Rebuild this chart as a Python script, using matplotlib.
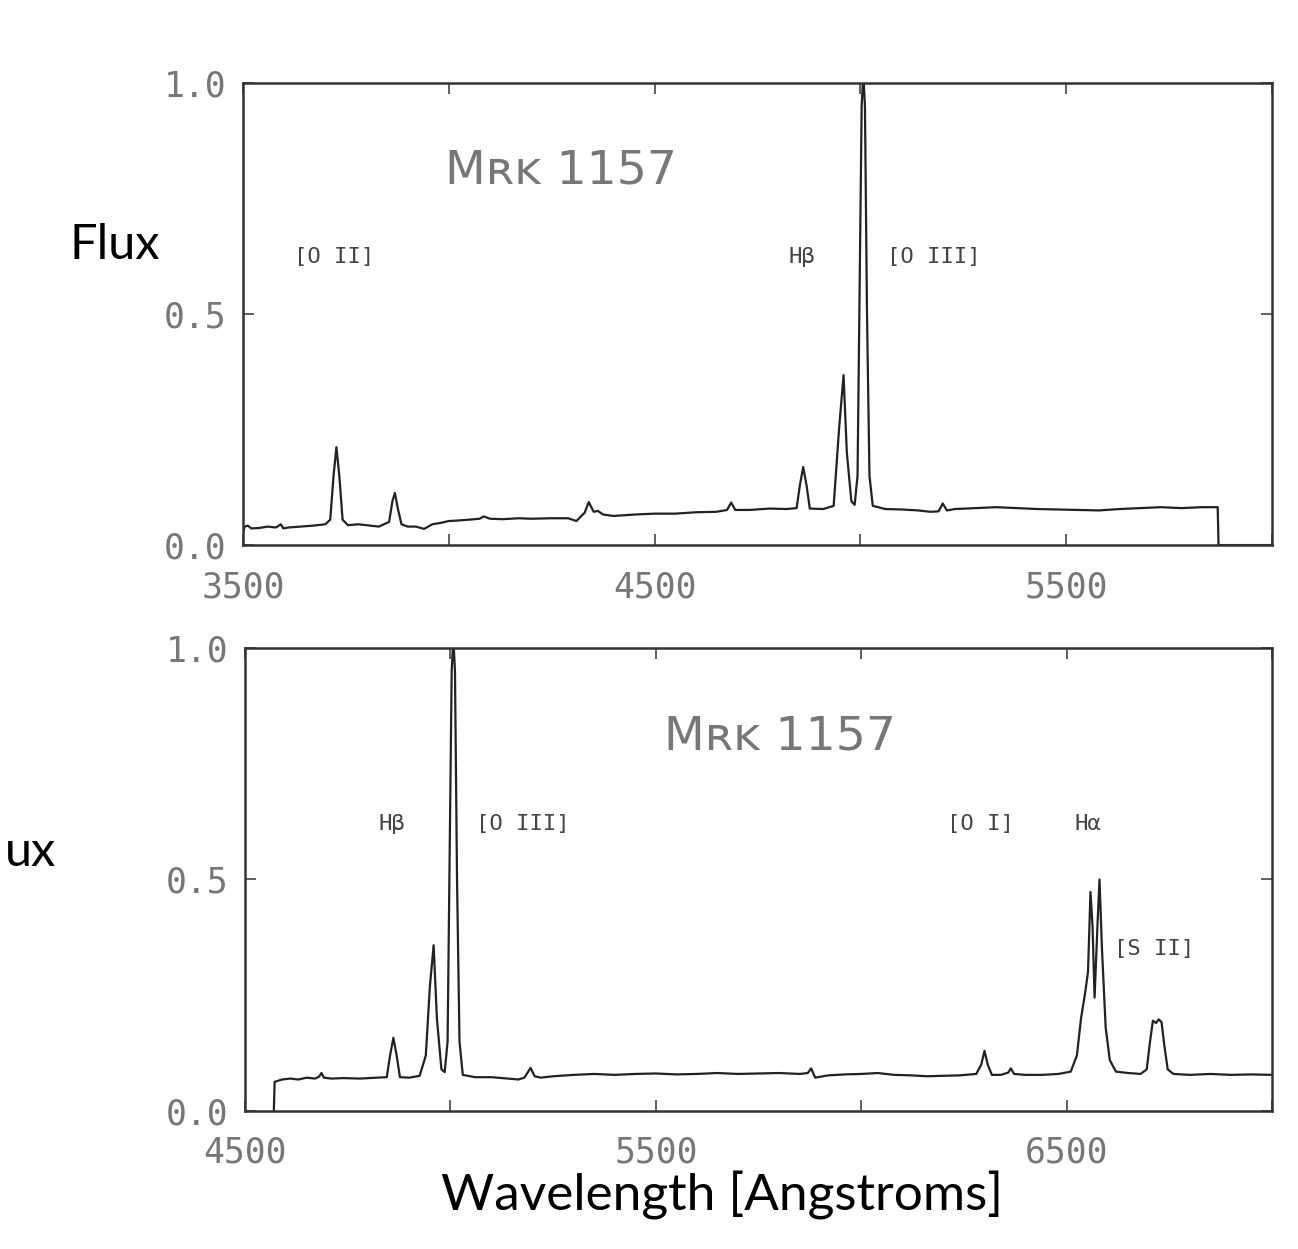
import matplotlib
matplotlib.use("Agg")
import matplotlib.pyplot as plt
from matplotlib.ticker import MultipleLocator

# top spectrum (3500-6000 A)
wl_top = [3500, 3504, 3512, 3520, 3540, 3560, 3580, 3592, 3598, 3610, 3640, 3670,
          3700, 3712, 3720, 3727, 3734, 3742, 3755, 3780, 3800, 3830, 3855, 3863,
          3869, 3876, 3885, 3900, 3920, 3940, 3960, 3980, 4000, 4020, 4050, 4075,
          4085, 4100, 4130, 4170, 4200, 4250, 4290, 4310, 4330, 4340, 4352, 4362,
          4375, 4400, 4450, 4500, 4550, 4600, 4650, 4676, 4686, 4696, 4730, 4780,
          4820, 4845, 4853, 4861, 4869, 4877, 4910, 4935, 4948, 4959, 4967, 4978,
          4986, 4993, 4998, 5003, 5007, 5011, 5016, 5022, 5030, 5060, 5100, 5140,
          5170, 5190, 5200, 5210, 5230, 5280, 5330, 5380, 5430, 5480, 5530, 5580,
          5630, 5680, 5730, 5780, 5830, 5868, 5870, 6000]
flux_top = [0.025, 0.040, 0.042, 0.036, 0.037, 0.040, 0.038, 0.045, 0.036, 0.038, 0.040, 0.042,
            0.045, 0.055, 0.150, 0.212, 0.150, 0.055, 0.043, 0.045, 0.043, 0.040, 0.050, 0.095,
            0.113, 0.080, 0.045, 0.040, 0.040, 0.035, 0.045, 0.048, 0.052, 0.053, 0.055, 0.057,
            0.062, 0.057, 0.056, 0.058, 0.057, 0.058, 0.058, 0.052, 0.070, 0.093, 0.072, 0.074,
            0.066, 0.063, 0.066, 0.068, 0.068, 0.071, 0.072, 0.076, 0.092, 0.076, 0.076, 0.079,
            0.078, 0.080, 0.130, 0.169, 0.130, 0.079, 0.078, 0.085, 0.250, 0.368, 0.200, 0.095,
            0.087, 0.150, 0.550, 0.950, 1.020, 0.950, 0.500, 0.150, 0.085, 0.078, 0.077, 0.075,
            0.072, 0.073, 0.090, 0.075, 0.078, 0.080, 0.082, 0.080, 0.078, 0.077, 0.076, 0.075,
            0.078, 0.080, 0.082, 0.080, 0.082, 0.082, 0.0, 0.0]

# bottom spectrum (4500-7000 A)
wl_bot = [4570, 4572, 4590, 4610, 4630, 4650, 4670, 4680, 4686, 4692, 4710, 4740,
          4780, 4820, 4845, 4853, 4861, 4869, 4877, 4900, 4925, 4940, 4950, 4959,
          4967, 4978, 4986, 4993, 4998, 5003, 5007, 5011, 5016, 5022, 5030, 5060,
          5100, 5140, 5165, 5180, 5195, 5205, 5220, 5250, 5300, 5350, 5400, 5450,
          5500, 5550, 5600, 5650, 5700, 5750, 5800, 5850, 5870, 5878, 5888, 5920,
          5960, 6000, 6040, 6080, 6120, 6160, 6200, 6240, 6280, 6292, 6300, 6308,
          6318, 6340, 6358, 6364, 6372, 6400, 6440, 6480, 6510, 6525, 6535, 6545,
          6552, 6558, 6563, 6568, 6575, 6580, 6586, 6595, 6605, 6620, 6650, 6680,
          6695, 6703, 6710, 6718, 6724, 6731, 6738, 6746, 6760, 6800, 6850, 6900,
          6950, 7000]
flux_bot = [0.0, 0.063, 0.068, 0.070, 0.068, 0.072, 0.070, 0.074, 0.082, 0.072, 0.070, 0.071,
            0.070, 0.072, 0.073, 0.120, 0.158, 0.120, 0.073, 0.072, 0.076, 0.120, 0.270, 0.358,
            0.200, 0.090, 0.084, 0.150, 0.550, 0.950, 1.020, 0.950, 0.500, 0.150, 0.078, 0.073,
            0.073, 0.070, 0.068, 0.072, 0.093, 0.075, 0.072, 0.075, 0.078, 0.080, 0.078, 0.080,
            0.081, 0.079, 0.080, 0.082, 0.080, 0.081, 0.082, 0.080, 0.082, 0.092, 0.072, 0.077,
            0.079, 0.080, 0.082, 0.078, 0.077, 0.075, 0.076, 0.077, 0.080, 0.100, 0.130, 0.100,
            0.078, 0.078, 0.083, 0.092, 0.080, 0.078, 0.078, 0.080, 0.085, 0.120, 0.200, 0.255,
            0.300, 0.473, 0.400, 0.245, 0.400, 0.500, 0.350, 0.180, 0.110, 0.085, 0.082, 0.080,
            0.090, 0.150, 0.195, 0.190, 0.198, 0.192, 0.140, 0.090, 0.080, 0.078, 0.080, 0.078,
            0.079, 0.078]

top_labels = [("[O II]", 3722), ("H\u03b2", 4858), ("[O III]", 5178)]
bot_labels = [("H\u03b2", 4858, 0.62), ("[O III]", 5176, 0.62), ("[O I]", 6291, 0.62),
              ("H\u03b1", 6551, 0.62), ("[S II]", 6714, 0.35)]

ink = "#222222"
gray = "#777777"
mono = "DejaVu Sans Mono"

fig = plt.figure(figsize=(12.98, 12.49), dpi=100)
ax1 = fig.add_axes([0.1872, 0.5636, 0.7928, 0.3699])
ax2 = fig.add_axes([0.1888, 0.1105, 0.7912, 0.3707])


def style(ax, x0, x1, ticks):
    ax.set_xlim(x0, x1)
    ax.set_ylim(0, 1.0)
    ax.set_xticks(ticks)
    ax.xaxis.set_minor_locator(MultipleLocator(500))
    ax.set_yticks([0.0, 0.5, 1.0])
    ax.set_yticklabels(["0.0", "0.5", "1.0"])
    ax.tick_params(which="both", direction="in", top=True, right=True,
                   length=8, width=1.2, color="#444444")
    ax.tick_params(axis="x", pad=18, labelsize=25, labelcolor=gray)
    ax.tick_params(axis="y", pad=12, labelsize=25, labelcolor=gray)
    for lab in ax.get_xticklabels() + ax.get_yticklabels():
        lab.set_family(mono)
    for s in ax.spines.values():
        s.set_linewidth(1.8)
        s.set_color("#333333")


ax1.plot(wl_top, flux_top, color=ink, lw=1.6)
style(ax1, 3500, 6000, [3500, 4500, 5500])
ax1.text(4273, 0.81, "M\u0280\u1d0b 1157", fontsize=34, color="#777777",
         ha="center", va="center")
for txt, x in top_labels:
    ax1.text(x, 0.623, txt, fontsize=16, family=mono, color="#444444",
             ha="center", va="center")

ax2.plot(wl_bot, flux_bot, color=ink, lw=1.6)
style(ax2, 4500, 7000, [4500, 5500, 6500])
ax2.text(5802, 0.808, "M\u0280\u1d0b 1157", fontsize=34, color="#777777",
         ha="center", va="center")
for txt, x, y in bot_labels:
    ax2.text(x, y, txt, fontsize=16, family=mono, color="#444444",
             ha="center", va="center")

fig.text(115 / 1298, 1 - 245 / 1249, "Flux", fontsize=35, family="Lato",
         ha="center", va="center", color="black")
# the second y label is clipped by the left edge in the source image
fig.text(56 / 1298, 1 - 852 / 1249, "ux", fontsize=35, family="Lato",
         ha="right", va="center", color="black")
fig.text(722 / 1298, 1 - 1195 / 1249, "Wavelength [Angstroms]", fontsize=37,
         family="Lato", ha="center", va="center", color="black")

fig.savefig("out.png", dpi=100)
